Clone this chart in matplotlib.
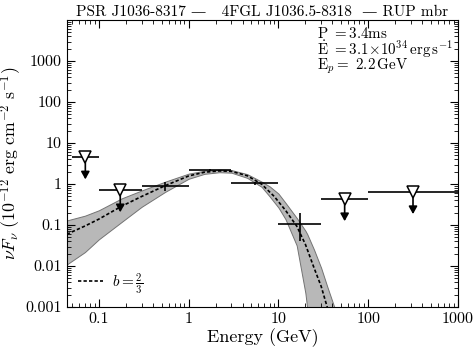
import numpy as np
import matplotlib
matplotlib.use('Agg')
import matplotlib.pyplot as plt
from matplotlib import rc

rc('mathtext', fontset='cm')
rc('font', family=['cmr10', 'DejaVu Serif'])
plt.rcParams['axes.unicode_minus'] = False
plt.rcParams['axes.formatter.use_mathtext'] = True

# spectral points (GeV, 1e-12 erg cm-2 s-1)
bin_lo = [0.05, 0.1, 0.3, 1.0, 3.0, 10.0, 30.0, 100.0]
bin_hi = [0.1, 0.3, 1.0, 3.0, 10.0, 30.0, 100.0, 1000.0]
flux = [4.5, 0.71, 0.9, 2.2, 1.05, 0.104, 0.43, 0.64]
flux_err_lo = [0, 0, 0.21, 0.12, 0.1, 0.063, 0, 0]
flux_err_hi = [0, 0, 0.24, 0.12, 0.1, 0.096, 0, 0]
is_ul = [True, True, False, False, False, False, True, True]

# best-fit model (b = 2/3)
model_e = [0.044, 0.07, 0.1, 0.18, 0.3, 0.55, 1.0, 1.5, 2.2, 3.0, 4.5, 6.5,
           9.0, 12, 16, 20, 25, 30, 35, 40]
model_f = [0.06, 0.095, 0.14, 0.29, 0.5, 0.92, 1.58, 1.95, 2.1, 2.05, 1.6,
           1.0, 0.5, 0.23, 0.095, 0.034, 0.009, 0.0032, 0.001, 0.0004]

# 1-sigma band
band_e = [0.044, 0.07, 0.1, 0.18, 0.3, 0.55, 1.0, 1.5, 2.2, 3.0, 4.5, 6.5,
          8.0, 10, 12, 16, 20, 21, 25, 30, 35, 42, 50]
band_lo = [0.011, 0.022, 0.045, 0.12, 0.28, 0.65, 1.35, 1.78, 1.95, 1.9,
           1.42, 0.86, 0.5, 0.27, 0.14, 0.032, 0.0022, 0.0009, 1e-5, 1e-5,
           1e-5, 1e-5, 1e-5]
band_hi = [0.13, 0.17, 0.23, 0.45, 0.7, 1.15, 1.8, 2.12, 2.25, 2.2, 1.75,
           1.15, 0.88, 0.59, 0.35, 0.15, 0.073, 0.06, 0.025, 0.009, 0.0032,
           0.001, 0.0004]

xticks = [0.1, 1, 10, 100, 1000]
xtick_labels = ['0.1', '1', '10', '100', '1000']
yticks = [0.001, 0.01, 0.1, 1, 10, 100, 1000]
ytick_labels = ['0.001', '0.01', '0.1', '1', '10', '100', '1000']

fig = plt.figure(figsize=(4.74, 3.53), dpi=100)
ax = fig.add_axes([0.141, 0.130, 0.825, 0.813])

ax.fill_between(band_e, band_lo, band_hi, facecolor='0.72', edgecolor='0.45',
                lw=0.7, zorder=1)
ax.plot(model_e, model_f, color='k', ls=(0, (2.0, 1.3)), lw=1.2, zorder=3,
        label=r'$b=\frac{2}{3}$')

lo = np.array(bin_lo)
hi = np.array(bin_hi)
e_c = np.sqrt(lo * hi)
f = np.array(flux)
ul = np.array(is_ul)
xerr = np.vstack([e_c - lo, hi - e_c])
yerr = np.vstack([flux_err_lo, flux_err_hi])

det = ~ul
ax.errorbar(e_c[det], f[det], xerr=xerr[:, det], yerr=yerr[:, det],
            fmt='none', ecolor='k', elinewidth=1.2, capsize=0, zorder=4)
ax.errorbar(e_c[ul], f[ul], xerr=xerr[:, ul], fmt='none', ecolor='k',
            elinewidth=1.2, capsize=0, zorder=4)
for x, y in zip(e_c[ul], f[ul]):
    ax.annotate('', xy=(x, y * 0.29), xytext=(x, y),
                arrowprops=dict(arrowstyle='-|>,head_length=0.45,head_width=0.25',
                                color='k', lw=1.2, shrinkA=0, shrinkB=0),
                zorder=4)
ax.plot(e_c[ul], f[ul], 'v', ms=8, mfc='white', mec='k', mew=1.1, zorder=5)

ax.set_xscale('log')
ax.set_yscale('log')
ax.set_xlim(0.044, 1000)
ax.set_ylim(1e-3, 1e4)
ax.set_xticks(xticks)
ax.set_xticklabels(xtick_labels)
ax.set_yticks(yticks)
ax.set_yticklabels(ytick_labels)
ax.tick_params(which='both', direction='in', top=True, right=True,
               labelsize=11.5)
ax.tick_params(which='major', length=6)
ax.tick_params(which='minor', length=3)

ax.set_xlabel('Energy (GeV)', fontsize=13, labelpad=2)
ax.set_ylabel(r'$\nu F_{\nu}\ (10^{-12}\ \mathrm{erg\ cm^{-2}\ s^{-1}})$',
              fontsize=12.8, labelpad=1)
ax.set_title('PSR J1036-8317 —   4FGL J1036.5-8318  — RUP mbr',
             fontsize=11, pad=3)

ax.text(0.64, 0.955, r'$\mathrm{P}\ {=}3.4\mathrm{ms}$', transform=ax.transAxes,
        fontsize=10.8, va='center')
ax.text(0.64, 0.897, r'$\dot{\mathrm{E}}\ {=}3.1\!\times\!10^{34}\,\mathrm{erg\,s^{-1}}$',
        transform=ax.transAxes, fontsize=10.8, va='center')
ax.text(0.64, 0.839, r'$\mathrm{E}_p{=}\ 2.2\,\mathrm{GeV}$', transform=ax.transAxes,
        fontsize=10.8, va='center')

ax.legend(loc='lower left', frameon=False, fontsize=11, handlelength=1.6,
          handletextpad=0.6, borderaxespad=0.35)

plt.savefig('out.png', dpi=100)
